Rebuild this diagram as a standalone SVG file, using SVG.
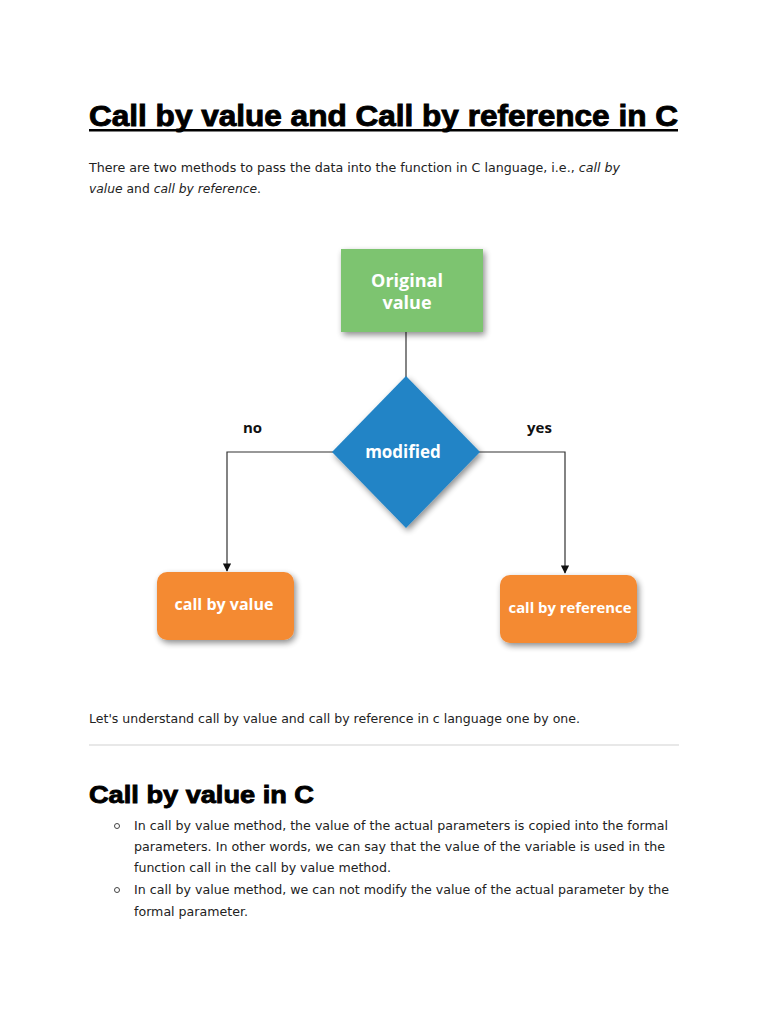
<svg xmlns="http://www.w3.org/2000/svg" width="768" height="1024" viewBox="0 0 768 1024">
<style>
.body{font-family:"DejaVu Sans",Verdana,sans-serif;font-size:12.5px;fill:#222}
.h{font-family:"Liberation Sans",Arial,sans-serif;font-weight:bold;fill:#000;stroke:#000;stroke-width:0.9}
.lbl{font-family:"Open Sans","Liberation Sans",sans-serif;font-weight:bold;fill:#fff;text-anchor:middle}
.yn{font-family:"Open Sans","Liberation Sans",sans-serif;font-weight:bold;font-size:15px;fill:#111}
.conn{fill:none;stroke:#333;stroke-width:1.2}
</style>
<defs>
<filter id="sh" x="-20%" y="-20%" width="150%" height="150%">
<feGaussianBlur in="SourceAlpha" stdDeviation="3"/>
<feOffset dx="2" dy="3"/>
<feComponentTransfer><feFuncA type="linear" slope="0.45"/></feComponentTransfer>
<feMerge><feMergeNode/><feMergeNode in="SourceGraphic"/></feMerge>
</filter>
<marker id="arr" viewBox="0 0 10 10" refX="9" refY="5" markerWidth="7" markerHeight="7" orient="auto">
<path d="M0,0 L10,5 L0,10 z" fill="#111"/>
</marker>
</defs>
<rect width="768" height="1024" fill="#fff"/>

<g id="title">
<text class="h" x="89" y="126" font-size="29" textLength="589" lengthAdjust="spacingAndGlyphs">Call by value and Call by reference in C</text>
<rect x="89" y="129" width="589" height="2.5" fill="#000"/>
</g>
<g id="intro">
<text class="body" x="89" y="172" textLength="531" lengthAdjust="spacingAndGlyphs">There are two methods to pass the data into the function in C language, i.e., <tspan font-style="italic">call by</tspan></text>
<text class="body" x="89" y="193" textLength="172" lengthAdjust="spacingAndGlyphs"><tspan font-style="italic">value</tspan> and <tspan font-style="italic">call by reference</tspan>.</text>
</g>

<g id="connectors">
<line class="conn" x1="406" y1="332" x2="406" y2="378"/>
<path class="conn" d="M333,452 H227 V571" marker-end="url(#arr)"/>
<path class="conn" d="M479,452 H565 V573" marker-end="url(#arr)"/>
</g>

<g id="original">
<rect x="341" y="249" width="142" height="83" fill="#7DC470" filter="url(#sh)"/>
<text class="lbl" x="407" y="287" font-size="18">Original</text>
<text class="lbl" x="407" y="309" font-size="18">value</text>
</g>
<g id="modified">
<polygon points="406,376 480,452 406,528 332,452" fill="#2384C6" filter="url(#sh)"/>
<text class="lbl" x="403" y="458" font-size="17">modified</text>
</g>
<g id="labels">
<text class="yn" x="243" y="433">no</text>
<text class="yn" x="527" y="433">yes</text>
</g>
<g id="callbyvalue">
<rect x="157" y="572" width="137" height="68" rx="10" fill="#F48A33" filter="url(#sh)"/>
<text class="lbl" x="224" y="610" font-size="16">call by value</text>
</g>
<g id="callbyreference">
<rect x="500" y="575" width="137" height="68" rx="10" fill="#F48A33" filter="url(#sh)"/>
<text class="lbl" x="570" y="613" font-size="15" textLength="123" lengthAdjust="spacingAndGlyphs">call by reference</text>
</g>

<g id="text2">
<text class="body" x="89" y="723" textLength="491" lengthAdjust="spacingAndGlyphs">Let's understand call by value and call by reference in c language one by one.</text>
<rect x="89" y="744" width="590" height="2" fill="#e8e8e8"/>
<text class="h" x="89" y="803" font-size="24" textLength="225" lengthAdjust="spacingAndGlyphs">Call by value in C</text>
<circle cx="117" cy="826" r="2.5" fill="none" stroke="#444" stroke-width="1"/>
<text class="body" x="134" y="830" textLength="534" lengthAdjust="spacingAndGlyphs">In call by value method, the value of the actual parameters is copied into the formal</text>
<text class="body" x="134" y="851" textLength="531" lengthAdjust="spacingAndGlyphs">parameters. In other words, we can say that the value of the variable is used in the</text>
<text class="body" x="134" y="872" textLength="257" lengthAdjust="spacingAndGlyphs">function call in the call by value method.</text>
<circle cx="117" cy="890" r="2.5" fill="none" stroke="#444" stroke-width="1"/>
<text class="body" x="134" y="894" textLength="535" lengthAdjust="spacingAndGlyphs">In call by value method, we can not modify the value of the actual parameter by the</text>
<text class="body" x="134" y="916" textLength="114" lengthAdjust="spacingAndGlyphs">formal parameter.</text>
</g>
</svg>
